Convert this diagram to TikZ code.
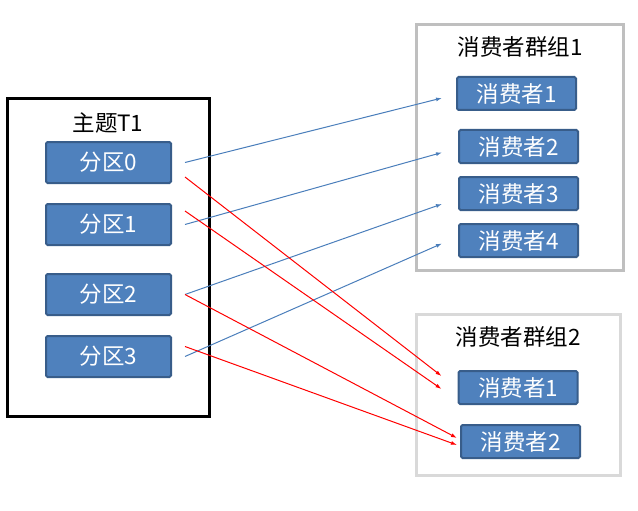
\documentclass[tikz,border=0pt]{standalone}
\usepackage{fontspec}
\setmainfont{Noto Sans CJK SC}
\usetikzlibrary{arrows.meta, positioning}
\definecolor{partfill}{HTML}{4F81BD}
\definecolor{partline}{HTML}{385D8A}
\definecolor{linkblue}{HTML}{4A7EBB}

\begin{document}
\begin{tikzpicture}[
        x=1pt, y=1pt,
        part/.style={rectangle, draw=partline, fill=partfill, line width=2pt,
                    rounded corners=1.5pt, minimum width=125pt, minimum height=41pt,
                    text=white, font=\fontsize{22.5}{25}\selectfont, inner sep=0pt},
        cons/.style={part, minimum width=119pt, minimum height=33pt},
        frame/.style={rectangle, draw, line width=3pt, inner sep=0pt},
        title/.style={font=\fontsize{22.5}{25}\selectfont, inner sep=0pt},
        blink/.style={-{Latex[length=6pt,width=4pt]}, linkblue, line width=1pt},
        rlink/.style={-{Latex[length=6pt,width=4pt]}, red, line width=1pt}
    ]
    \useasboundingbox (0,0) rectangle (638,-511);

    % Topic
    \node[frame, minimum width=202pt, minimum height=318pt] (topic) at (108.5,-257.5) {};
    \node[title] (ttl) at (108,-123) {主题T1};
    \node[part] (p0) at (108.5,-162.5) {分区0};
    \node[part, below=19pt of p0] (p1) {分区1};
    \node[part, below=27pt of p1] (p2) {分区2};
    \node[part, below=19pt of p2] (p3) {分区3};

    % Group 1
    \node[frame, draw=black!25, minimum width=207pt, minimum height=246pt] (grp1) at (520,-147.5) {};
    \node[title] (g1t) at (520,-47) {消费者群组1};
    \node[cons] (c1) at (516.5,-93.5) {消费者1};
    \node[cons, below=18pt of c1, xshift=2pt] (c2) {消费者2};
    \node[cons, below=12pt of c2] (c3) {消费者3};
    \node[cons, below=12pt of c3] (c4) {消费者4};

    % Group 2
    \node[frame, draw=black!15, minimum width=204pt, minimum height=161pt] (grp2) at (518.5,-395) {};
    \node[title] (g2t) at (518,-337) {消费者群组2};
    \node[cons] (d1) at (518,-387.5) {消费者1};
    \node[cons, below=19pt of d1, xshift=2.5pt] (d2) {消费者2};

    % Connections
    \draw[blink] ([xshift=13pt]p0.east) -- ([xshift=-14pt,yshift=-4.5pt]c1.west);
    \draw[blink] ([xshift=13pt]p1.east) -- ([xshift=-16pt,yshift=-6pt]c2.west);
    \draw[blink] ([xshift=13pt]p2.east) -- ([xshift=-16pt,yshift=-10.5pt]c3.west);
    \draw[blink] ([xshift=13pt]p3.east) -- ([xshift=-16pt,yshift=-3pt]c4.west);
    \draw[rlink] ([xshift=13pt,yshift=-14.5pt]p0.east) -- ([xshift=-16pt,yshift=11.5pt]d1.west);
    \draw[rlink] ([xshift=13pt,yshift=13.5pt]p1.east) -- ([xshift=-16pt,yshift=-1.5pt]d1.west);
    \draw[rlink] ([xshift=13pt]p2.east) -- ([xshift=-3pt,yshift=3.5pt]d2.west);
    \draw[rlink] ([xshift=13pt,yshift=10pt]p3.east) -- ([xshift=-3pt,yshift=-3.5pt]d2.west);
\end{tikzpicture}
\end{document}
